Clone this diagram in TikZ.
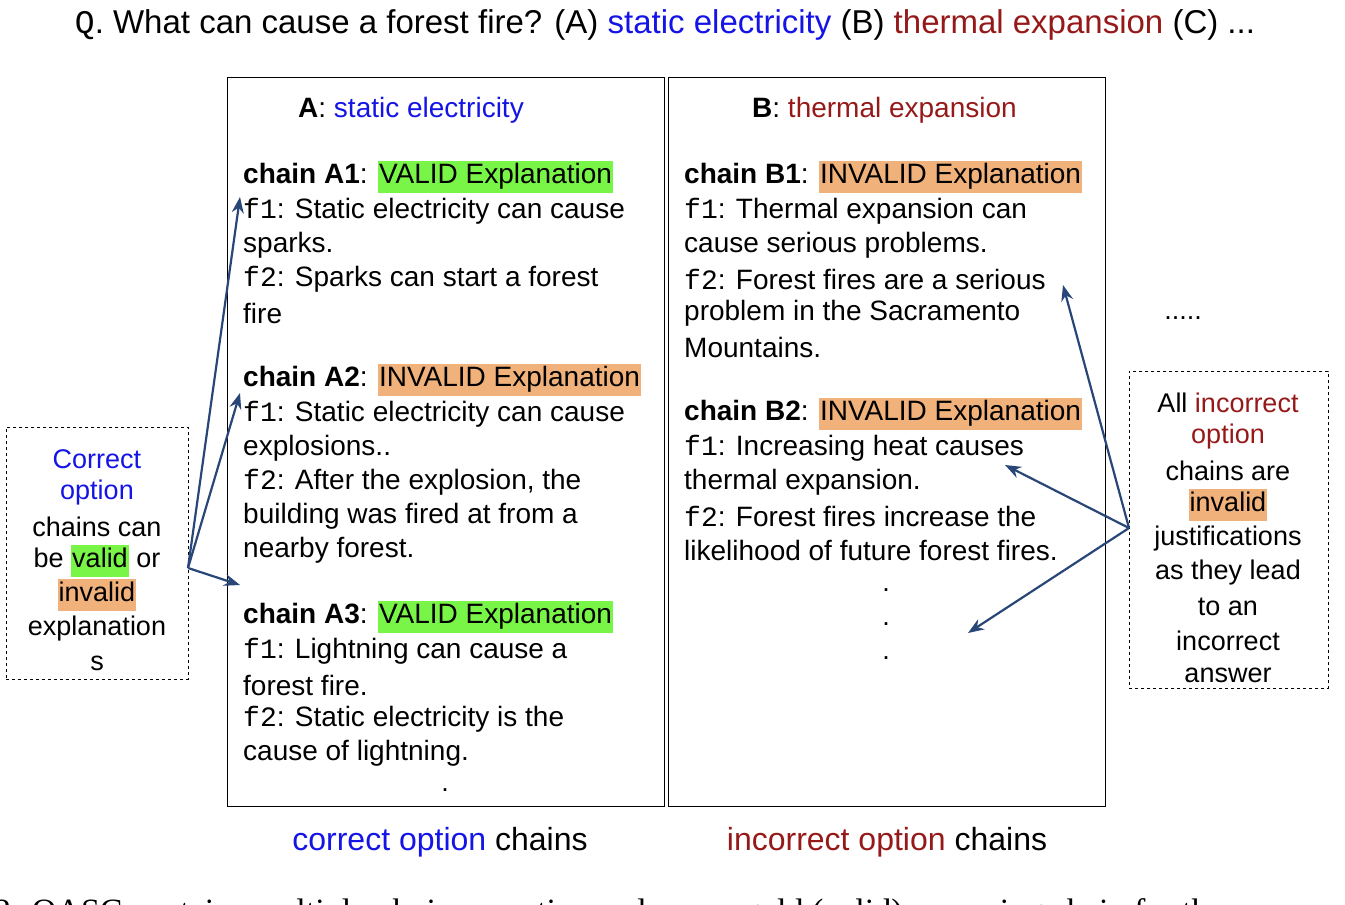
\documentclass[tikz,border=0pt]{standalone}
\usepackage{fontspec}
\setmainfont{Liberation Sans}
\setmonofont{Liberation Mono}
\newfontfamily\capfont{Liberation Serif}
\usetikzlibrary{arrows.meta}
\definecolor{cblue}{RGB}{20,20,230}
\definecolor{cred}{RGB}{150,25,25}
\definecolor{hg}{RGB}{120,245,70}
\definecolor{ho}{RGB}{240,178,122}
\definecolor{arr}{RGB}{40,70,120}
\newcommand{\hlg}[1]{{\setlength{\fboxsep}{1pt}\colorbox{hg}{\strut #1}}}
\newcommand{\hlo}[1]{{\setlength{\fboxsep}{1pt}\colorbox{ho}{\strut #1}}}
\begin{document}
\begin{tikzpicture}[x=1pt,y=-1pt,
  txt/.style={anchor=west,inner sep=0pt,font=\fontsize{28}{30}\selectfont},
  ctr/.style={anchor=center,inner sep=0pt,font=\fontsize{27}{30}\selectfont},
  frame/.style={draw,line width=1pt},
  dbox/.style={draw,dashed,line width=0.8pt},
  conn/.style={draw=arr,line width=2.2pt,-{Stealth[length=16pt,width=12pt]}}]
\useasboundingbox (0,0) rectangle (1345,905);
\begin{scope}
\clip (0,0) rectangle (1345,905);
\node[txt,font=\capfont\fontsize{34}{36}\selectfont] (cap) at (-6,914) {2: QASC contains multiple-choice questions, plus one gold (valid) reasoning chain for the correc};
\end{scope}
\node[ctr,font=\fontsize{33}{36}\selectfont] (title) at (665,25) {{\ttfamily Q}. What can cause a forest fire? (A) \textcolor{cblue}{static electricity} (B) \textcolor{cred}{thermal expansion} (C) ...};
\node[frame,minimum width=437,minimum height=729,anchor=north west] (boxA) at (227,77) {};
\node[frame,minimum width=437,minimum height=729,anchor=north west] (boxB) at (668,77) {};
\node[txt] (hA) at (298,110) {\textbf{A}: \textcolor{cblue}{static electricity}};
\node[txt] (hB) at (752,110) {\textbf{B}: \textcolor{cred}{thermal expansion}};
% chain A
\node[txt] (a1) at (243,177) {\textbf{chain A1}: \hlg{VALID Explanation}};
\node[txt] (a2) at (243,211) {{\ttfamily f1}: Static electricity can cause};
\node[txt] (a3) at (243,245) {sparks.};
\node[txt] (a4) at (243,279) {{\ttfamily f2}: Sparks can start a forest};
\node[txt] (a5) at (243,313) {fire};
\node[txt] (a6) at (243,380) {\textbf{chain A2}: \hlo{INVALID Explanation}};
\node[txt] (a7) at (243,414) {{\ttfamily f1}: Static electricity can cause};
\node[txt] (a8) at (243,448) {explosions..};
\node[txt] (a9) at (243,482) {{\ttfamily f2}: After the explosion, the};
\node[txt] (a10) at (243,516) {building was fired at from a};
\node[txt] (a11) at (243,550) {nearby forest.};
\node[txt] (a12) at (243,617) {\textbf{chain A3}: \hlg{VALID Explanation}};
\node[txt] (a13) at (243,651) {{\ttfamily f1}: Lightning can cause a};
\node[txt] (a14) at (243,685) {forest fire.};
\node[txt] (a15) at (243,719) {{\ttfamily f2}: Static electricity is the};
\node[txt] (a16) at (243,753) {cause of lightning.};
\node[ctr] (a17) at (445,790) {.};
% chain B
\node[txt] (b1) at (684,177) {\textbf{chain B1}: \hlo{INVALID Explanation}};
\node[txt] (b2) at (684,211) {{\ttfamily f1}: Thermal expansion can};
\node[txt] (b3) at (684,245) {cause serious problems.};
\node[txt] (b4) at (684,279) {{\ttfamily f2}: Forest fires are a serious};
\node[txt] (b5) at (684,313) {problem in the Sacramento};
\node[txt] (b6) at (684,347) {Mountains.};
\node[txt] (b7) at (684,414) {\textbf{chain B2}: \hlo{INVALID Explanation}};
\node[txt] (b8) at (684,448) {{\ttfamily f1}: Increasing heat causes};
\node[txt] (b9) at (684,482) {thermal expansion.};
\node[txt] (b10) at (684,516) {{\ttfamily f2}: Forest fires increase the};
\node[txt] (b11) at (684,550) {likelihood of future forest fires.};
\node[ctr] (d1) at (886,590) {.};
\node[ctr] (d2) at (886,624) {.};
\node[ctr] (d3) at (886,658) {.};
\node[ctr] (dots) at (1183,318) {.....};
% side boxes
\node[dbox,minimum width=182,minimum height=252,anchor=north west] (lb) at (6,427) {};
\node[dbox,minimum width=199,minimum height=317,anchor=north west] (rb) at (1129,371) {};
\foreach \t [count=\i] in {\textcolor{cblue}{Correct},\textcolor{cblue}{option},chains can,be \hlg{valid} or,\hlo{invalid},explanation,s}
  \node[ctr] (l\i) at (97,{425+34*\i}) {\t};
\foreach \t [count=\i] in {All \textcolor{cred}{incorrect},\textcolor{cred}{option},chains are,\hlo{invalid},justifications,as they lead,to an,incorrect,answer}
  \node[ctr] (r\i) at (1228,{369+34*\i}) {\t};
\coordinate (lo) at (188,568);
\coordinate (ro) at (1129,528);
\coordinate (t1) at (240,197);
\coordinate (t2) at (240,393);
\coordinate (t3) at (240,585);
\coordinate (u1) at (1063,285);
\coordinate (u2) at (1005,465);
\coordinate (u3) at (968,633);
\foreach \c in {t1,t2,t3} \draw[conn] (lo) -- (\c);
\foreach \c in {u1,u2,u3} \draw[conn] (ro) -- (\c);
\node[ctr,font=\fontsize{32}{34}\selectfont] (la) at (440,842) {\textcolor{cblue}{correct option} chains};
\node[ctr,font=\fontsize{32}{34}\selectfont] (lbb) at (887,842) {\textcolor{cred}{incorrect option} chains};
\end{tikzpicture}
\end{document}
